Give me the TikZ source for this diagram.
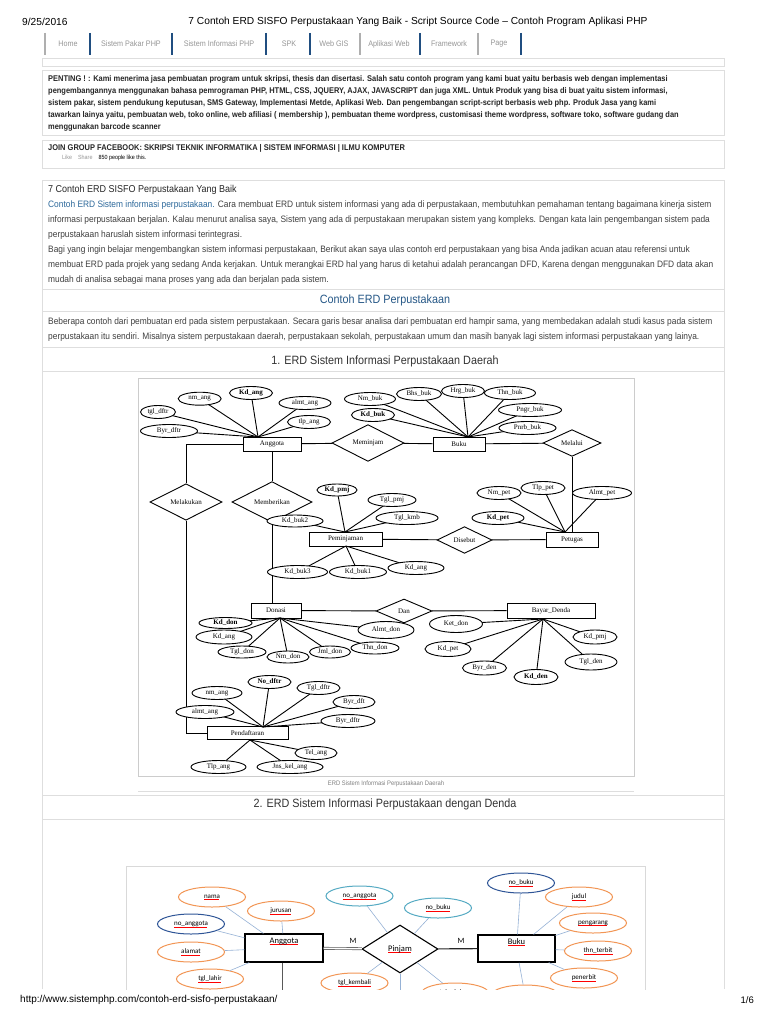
\documentclass[tikz,border=0pt]{standalone}
\usepackage{fontspec}
\setmainfont{Liberation Sans}
\newfontfamily\narrowfont[FakeStretch=0.9]{Liberation Sans}
\newfontfamily\erdfont{Liberation Serif}
\newfontfamily\wordfont{Carlito}
\usetikzlibrary{shapes.geometric}
\usetikzlibrary{positioning}

\definecolor{navblue}{RGB}{32,78,128}
\definecolor{navgray}{RGB}{175,175,175}
\definecolor{navtext}{RGB}{150,150,150}
\definecolor{boxline}{RGB}{222,222,222}
\definecolor{bodytext}{RGB}{64,64,64}
\definecolor{linkblue}{RGB}{45,105,155}
\definecolor{headblue}{RGB}{38,88,135}
\definecolor{wordorange}{RGB}{242,150,85}
\definecolor{worddark}{RGB}{47,85,151}
\definecolor{wordlight}{RGB}{85,170,195}
\definecolor{wordline}{RGB}{150,178,214}

\newcommand{\spellmark}[1]{\setbox0\hbox{#1}\leavevmode\rlap{\textcolor{red}{\leaders\hbox{\rule[-1.4pt]{0.5pt}{0.35pt}\kern0.5pt}\hskip\wd0}}\box0}

\tikzset{
  erdtxt/.style={font=\erdfont\fontsize{7}{8}\selectfont},
  ent/.style={erdtxt, draw, line width=0.9pt, inner sep=0pt, fill=white},
  attr/.style={erdtxt, ellipse, draw, line width=0.9pt, inner sep=0pt, fill=white},
  rel/.style={erdtxt, diamond, draw, line width=0.9pt, inner sep=0pt, fill=white},
  link/.style={line width=0.9pt},
  wordtxt/.style={font=\wordfont\fontsize{7}{8}\selectfont},
  went/.style={font=\wordfont\fontsize{8.5}{9}\selectfont, draw, line width=1.1pt, inner sep=0pt, fill=white},
  wattr/.style={wordtxt, ellipse, draw=wordorange, line width=1pt, inner sep=0pt, fill=white, minimum width=67pt, minimum height=20pt},
  wlink/.style={wordline, line width=0.6pt},
  boxrule/.style={boxline, line width=0.8pt},
  para/.style={anchor=west, inner sep=0pt, font=\narrowfont\fontsize{9.3}{11}\selectfont, text=bodytext},
  pent/.style={anchor=west, inner sep=0pt, font=\narrowfont\bfseries\fontsize{8.3}{9}\selectfont, text=black!85},
  navtxt/.style={inner sep=0pt, font=\narrowfont\fontsize{8}{9}\selectfont, text=navtext}
}

\begin{document}
\begin{tikzpicture}[x=1pt,y=-1pt]
\useasboundingbox (0,0) rectangle (768,1024);
\fill[white] (0,0) rectangle (768,1024);

% page header
\node[anchor=west, inner sep=0pt, font=\fontsize{10.2}{11}\selectfont] (date) at (22,22) {9/25/2016};
\node[inner sep=0pt, font=\fontsize{10.2}{11}\selectfont] (title) at (418,22) {7 Contoh ERD SISFO Perpustakaan Yang Baik - Script Source Code -- Contoh Program Aplikasi PHP};

% navigation
\foreach \x/\c in {45/navgray, 90/navblue, 172/navblue, 266/navblue, 310/navblue, 360/navgray, 420/navblue, 478/navgray, 521/navblue}
  \draw[\c, line width=1.5pt] (\x,33) -- (\x,55);
\foreach \n/\x/\t in {home/68/Home, pakar/131/Sistem Pakar PHP, info/219/Sistem Informasi PHP, spk/289/SPK, gis/334/Web GIS, apl/389/Aplikasi Web, frm/449/Framework, page/499/Page}
  \node[navtxt] (nav\n) at (\x,44) {\t};

% notice boxes
\draw[boxrule] (42,58) rectangle (724,66);
\draw[boxrule] (42,70) rectangle (724,135);
\node[pent] (pent1) at (48,79) {PENTING ! : Kami menerima jasa pembuatan program untuk skripsi, thesis dan disertasi. Salah satu contoh program yang kami buat yaitu berbasis web dengan implementasi};
\node[pent] (pent2) at (48,91) {pengembangannya menggunakan bahasa pemrograman PHP, HTML, CSS, JQUERY, AJAX, JAVASCRIPT dan juga XML. Untuk Produk yang bisa di buat yaitu sistem informasi,};
\node[pent] (pent3) at (48,103) {sistem pakar, sistem pendukung keputusan, SMS Gateway, Implementasi Metde, Aplikasi Web. Dan pengembangan script-script berbasis web php. Produk Jasa yang kami};
\node[pent] (pent4) at (48,115) {tawarkan lainya yaitu, pembuatan web, toko online, web afiliasi ( membership ), pembuatan theme wordpress, customisasi theme wordpress, software toko, software gudang dan};
\node[pent] (pent5) at (48,127) {menggunakan barcode scanner};

\draw[boxrule] (42,140) rectangle (724,168);
\node[pent] (join) at (48,148) {JOIN GROUP FACEBOOK: SKRIPSI TEKNIK INFORMATIKA | SISTEM INFORMASI | ILMU KOMPUTER};
\node[anchor=west, inner sep=0pt, font=\narrowfont\fontsize{6}{7}\selectfont] (like) at (62,158) {\textcolor{navtext}{Like}\quad\textcolor{navtext}{Share}\quad 850 people like this.};

% article
\draw[boxrule] (42,989) -- (42,180) -- (724,180) -- (724,989);
\node[anchor=west, inner sep=0pt, font=\narrowfont\fontsize{10}{12}\selectfont, text=black!85] (arttitle) at (48,190) {7 Contoh ERD SISFO Perpustakaan Yang Baik};
\node[para] (p1a) at (48,205) {\textcolor{linkblue}{Contoh ERD Sistem informasi perpustakaan.} Cara membuat ERD untuk sistem informasi yang ada di perpustakaan, membutuhkan pemahaman tentang bagaimana kinerja sistem};
\node[para] (p1b) at (48,220) {informasi perpustakaan berjalan. Kalau menurut analisa saya, Sistem yang ada di perpustakaan merupakan sistem yang kompleks. Dengan kata lain pengembangan sistem pada};
\node[para] (p1c) at (48,235) {perpustakaan haruslah sistem informasi terintegrasi.};
\node[para] (p2a) at (48,250) {Bagi yang ingin belajar mengembangkan sistem informasi perpustakaan, Berikut akan saya ulas contoh erd perpustakaan yang bisa Anda jadikan acuan atau referensi untuk};
\node[para] (p2b) at (48,265) {membuat ERD pada projek yang sedang Anda kerjakan. Untuk merangkai ERD hal yang harus di ketahui adalah perancangan DFD, Karena dengan menggunakan DFD data akan};
\node[para] (p2c) at (48,280) {mudah di analisa sebagai mana proses yang ada dan berjalan pada sistem.};
\draw[boxrule] (42,289) -- (724,289);
\node[inner sep=0pt, font=\narrowfont\fontsize{12}{14}\selectfont, text=headblue] (head1) at (385,300) {Contoh ERD Perpustakaan};
\draw[boxrule] (42,311) -- (724,311);
\node[para] (p3a) at (48,322) {Beberapa contoh dari pembuatan erd pada sistem perpustakaan. Secara garis besar analisa dari pembuatan erd hampir sama, yang membedakan adalah studi kasus pada sistem};
\node[para] (p3b) at (48,337) {perpustakaan itu sendiri. Misalnya sistem perpustakaan daerah, perpustakaan sekolah, perpustakaan umum dan masih banyak lagi sistem informasi perpustakaan yang lainya.};
\draw[boxrule] (42,347) -- (724,347);
\node[inner sep=0pt, font=\narrowfont\fontsize{12}{14}\selectfont, text=black!80] (head2) at (385,361) {1. ERD Sistem Informasi Perpustakaan Daerah};
\draw[boxrule] (42,371) -- (724,371);

% ERD 1
\draw[gray!40, line width=0.8pt] (138,378) rectangle (634,776);
\node[ent, minimum width=58pt, minimum height=14pt] (ang) at (272,444) {Anggota};
\node[ent, minimum width=52pt, minimum height=14pt] (buk) at (459,444) {Buku};
\node[ent, minimum width=73pt, minimum height=14pt] (pmj) at (345.5,539) {Peminjaman};
\node[ent, minimum width=52pt, minimum height=15pt] (pet) at (572,539.5) {Petugas};
\node[ent, minimum width=50pt, minimum height=15pt] (don) at (276,610.5) {Donasi};
\node[ent, minimum width=88pt, minimum height=15pt] (byr) at (551,610.5) {Bayar\_Denda};
\node[ent, minimum width=81pt, minimum height=13pt] (pdf) at (247.5,733) {Pendaftaran};

\node[rel, minimum width=72pt, minimum height=23pt] (mnj) at (368,443) {Meminjam};
\node[rel, minimum width=58pt, minimum height=24pt] (mll) at (572,443) {Melalui};
\node[rel, minimum width=72pt, minimum height=23pt] (mlk) at (186,502) {Melakukan};
\node[rel, minimum width=80pt, minimum height=23pt] (mbr) at (272,502) {Memberikan};
\node[rel, minimum width=55pt, minimum height=18pt] (dsb) at (464.5,540) {Disebut};
\node[rel, minimum width=56pt, minimum height=24pt] (dan) at (404,611) {Dan};

\draw[link] (ang) -- (mnj) -- (buk);
\draw[link] (buk) -- (mll);
\draw[link] (mll) -- (pet);
\draw[link] (ang.west) -| (mlk.north);
\draw[link] (mlk.south) |- (pdf.west);
\draw[link] (ang.south -| mbr.north) -- (mbr.north);
\draw[link] (mbr.south) -- (mbr.south |- don.north);
\draw[link] (pmj) -- (dsb) -- (pet);
\draw[link] (don) -- (dan) -- (byr);

\coordinate (angtop) at (258,437);
\foreach \n/\x/\y/\w/\h/\t in {nmang/199.7/398.7/43/13/nm\_ang, kdang/251/393/43/13/\textbf{Kd\_ang}, almtang/305/403/52/13/almt\_ang, tlpang/309/422/43/13/tlp\_ang, tgldftr/158/412/35/13/tgl\_dftr, byrdftr/169/431/57/13/Byr\_dftr}
  {\draw[link] (angtop) -- (\x,\y);
   \node[attr, minimum width=\w pt, minimum height=\h pt] (\n) at (\x,\y) {\t};}

\coordinate (buktop) at (468,437);
\foreach \n/\x/\y/\w/\h/\t in {nmbuk/370/399/51/13/Nm\_buk, kdbuk/373/415/43/13/\textbf{Kd\_buk}, bhsbuk/419/394/45/13/Bhs\_buk, hrgbuk/463/391/43/13/Hrg\_buk, thnbuk/510/393/51/13/Thn\_buk, pngrbuk/530/410/63/13/Pngr\_buk, pnrbbuk/527.5/428/57/13/Pnrb\_buk}
  {\draw[link] (buktop) -- (\x,\y);
   \node[attr, minimum width=\w pt, minimum height=\h pt] (\n) at (\x,\y) {\t};}

\coordinate (pmjtop) at (345,532);
\coordinate (pmjbot) at (346,546);
\foreach \n/\x/\y/\w/\h/\t in {kdpmj/337/490/40/12/\textbf{Kd\_pmj}, tglpmj/392/500/48/13/Tgl\_pmj, tglkmb/407/518/62/13/Tgl\_kmb, kdbuk2/295/521/56/12/Kd\_buk2}
  {\draw[link] (pmjtop) -- (\x,\y);
   \node[attr, minimum width=\w pt, minimum height=\h pt] (\n) at (\x,\y) {\t};}
\foreach \n/\x/\y/\w/\h/\t in {kdbuk3/297.5/572/60/13/Kd\_buk3, kdbuk1/358/572/57/13/Kd\_buk1, kdang2/416/568/56/13/Kd\_ang}
  {\draw[link] (pmjbot) -- (\x,\y);
   \node[attr, minimum width=\w pt, minimum height=\h pt] (\n) at (\x,\y) {\t};}

\coordinate (pettop) at (565,532);
\foreach \n/\x/\y/\w/\h/\t in {nmpet/499/493/44/13/Nm\_pet, tlppet/543/488/44/13/Tlp\_pet, almtpet/602/493/59/13/Almt\_pet, kdpet/498/518/52/13/\textbf{Kd\_pet}}
  {\draw[link] (pettop) -- (\x,\y);
   \node[attr, minimum width=\w pt, minimum height=\h pt] (\n) at (\x,\y) {\t};}

\coordinate (donbot) at (280,618);
\foreach \n/\x/\y/\w/\h/\t in {kddon/225.5/623/53/11/\textbf{Kd\_don}, kdang3/224/637/56/14/Kd\_ang, tgldon/242/652/48/12/Tgl\_don, nmdon/288/657/42/12/Nm\_don, jmldon/330/652/41/12/Jml\_don, thndon/375/648/48/12/Thn\_don, almtdon/386/630/56/17/Almt\_don}
  {\draw[link] (donbot) -- (\x,\y);
   \node[attr, minimum width=\w pt, minimum height=\h pt] (\n) at (\x,\y) {\t};}

\coordinate (byrbot) at (543,619);
\foreach \n/\x/\y/\w/\h/\t in {ketdon/456/624/53/17/Ket\_don, kdpet2/448/649/46/15/Kd\_pet, byrden/484.5/668/44/14/Byr\_den, kdden/536/677/44/15/\textbf{Kd\_den}, kdpmj2/595/637/44/14/Kd\_pmj, tglden/591/662/52/16/Tgl\_den}
  {\draw[link] (byrbot) -- (\x,\y);
   \node[attr, minimum width=\w pt, minimum height=\h pt] (\n) at (\x,\y) {\t};}

\coordinate (pdftop) at (263,727);
\coordinate (pdfbot) at (250,740);
\foreach \n/\x/\y/\w/\h/\t in {nodftr/269.5/682/43/13/\textbf{No\_dftr}, nmang2/217/693/50/13/nm\_ang, almtang2/205/712/58/13/almt\_ang, tgldftr2/318.5/688/43/13/Tgl\_dftr, byrdft/354/702/42/13/Byr\_dft, byrdftr2/348/721/54/13/Byr\_dftr}
  {\draw[link] (pdftop) -- (\x,\y);
   \node[attr, minimum width=\w pt, minimum height=\h pt] (\n) at (\x,\y) {\t};}
\foreach \n/\x/\y/\w/\h/\t in {tlpang2/218.5/767/55/13/Tlp\_ang, jnskel/290/767/66/13/Jns\_kel\_ang, telang/316/753/42/13/Tel\_ang}
  {\draw[link] (pdfbot) -- (\x,\y);
   \node[attr, minimum width=\w pt, minimum height=\h pt] (\n) at (\x,\y) {\t};}

\node[inner sep=0pt, font=\narrowfont\fontsize{6.5}{7}\selectfont, text=gray] (cap1) at (386,784) {ERD Sistem Informasi Perpustakaan Daerah};
\draw[boxrule] (138,791) -- (634,791);
\draw[boxrule] (42,795) -- (724,795);
\node[inner sep=0pt, font=\narrowfont\fontsize{12}{14}\selectfont, text=black!80] (head3) at (385,804) {2. ERD Sistem Informasi Perpustakaan dengan Denda};
\draw[boxrule] (42,819) -- (724,819);

% ERD 2 (cut by the page end)
\begin{scope}
\clip (0,0) rectangle (768,989);
\draw[gray!30, line width=0.8pt] (126,866) rectangle (645,1010);
\node[went, minimum width=78pt, minimum height=28pt, text height=4pt, text depth=14pt] (ang2) at (284,948) {\spellmark{Anggota}};
\node[went, diamond, minimum width=76pt, minimum height=48pt] (pnj) at (400,949) {\spellmark{Pinjam}};
\node[went, minimum width=77pt, minimum height=27pt, text height=4pt, text depth=13pt] (buk2) at (516.5,948.5) {\spellmark{Buku}};
\coordinate (angdown) at (282,1010);
\coordinate (pnjdown) at (400,1010);
\draw[gray!70!black, line width=0.8pt] (ang2.south -| angdown) -- (angdown);
\draw[wlink] (pnj.south) -- (pnjdown);
\draw[gray!70!black, line width=0.6pt, double, double distance=1.6pt] (ang2) -- (pnj);
\draw[black!85, line width=1.1pt] (pnj) -- (buk2);
\node[wordtxt, font=\wordfont\fontsize{8}{9}\selectfont] (m1) at (353,941) {M};
\node[wordtxt, font=\wordfont\fontsize{8}{9}\selectfont] (m2) at (461,941) {M};
\foreach \n/\x/\y/\c/\t in {nama/212/897/wordorange/nama, jurusan/281/911/wordorange/jurusan, noang/191/924/worddark/no\_anggota, alamat/191/952/wordorange/alamat, tgllahir/210/979/wordorange/tgl\_lahir}
  {\node[wattr, draw=\c] (\n) at (\x,\y) {\spellmark{\t}};
   \draw[wlink] (\n) -- (ang2);}
\foreach \n/\x/\y/\c/\t in {noang2/359.5/896/wordlight/no\_anggota, nobuk/438/908/wordlight/no\_buku, tglkembali/354.5/983/wordorange/tgl\_kembali, tglpinjam/455/993/wordorange/tgl\_pinjam}
  {\node[wattr, draw=\c] (\n) at (\x,\y) {\spellmark{\t}};
   \draw[wlink] (\n) -- (pnj);}
\foreach \n/\x/\y/\c/\t in {nobuk2/521/883/worddark/no\_buku, judul/579/897/wordorange/judul, pengarang/593/923/wordorange/pengarang, thnterbit/598/951/wordorange/thn\_terbit, penerbit/584/978/wordorange/penerbit, bukbawah/525/995/wordorange/}
  {\node[wattr, draw=\c] (\n) at (\x,\y) {\spellmark{\t}};
   \draw[wlink] (\n) -- (buk2);}
\end{scope}

% page footer
\node[anchor=west, inner sep=0pt, font=\fontsize{10}{11}\selectfont] (url) at (20,1000) {http://www.sistemphp.com/contoh-erd-sisfo-perpustakaan/};
\node[anchor=east, inner sep=0pt, font=\fontsize{9.5}{10}\selectfont] (pgno) at (754,1000) {1/6};
\end{tikzpicture}
\end{document}
